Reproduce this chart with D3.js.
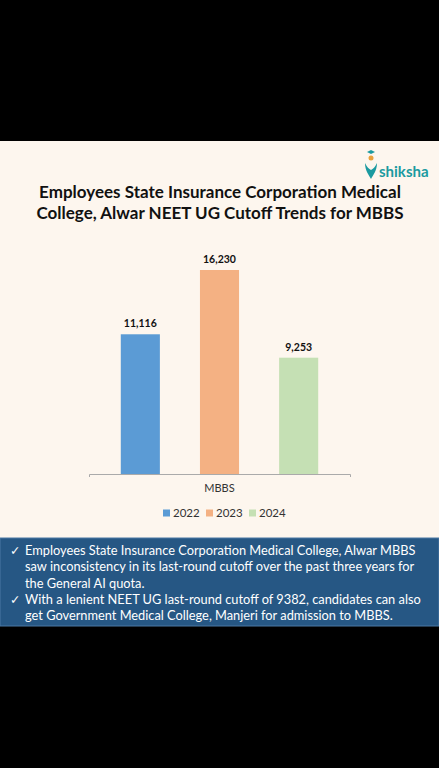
<!DOCTYPE html>
<html>
<head>
<meta charset="utf-8">
<script src="https://cdn.jsdelivr.net/npm/d3@7"></script>
<style>
  body { margin: 0; background: #000; }
  svg { display: block; }
</style>
</head>
<body>
<script>
var categories = ["MBBS"];
var years = ["2022", "2023", "2024"];
var cutoffs = [11116, 16230, 9253];
var colors = ["#5b9bd5", "#f4b183", "#c5e0b4"];
var titleLines = ["Employees State Insurance Corporation Medical", "College, Alwar NEET UG Cutoff Trends for MBBS"];
var notes = [
    ["Employees State Insurance Corporation Medical College, Alwar MBBS",
     "saw inconsistency in its last-round cutoff over the past three years for",
     "the General AI quota."],
    ["With a lenient NEET UG last-round cutoff of 9382, candidates can also",
     "get Government Medical College, Manjeri for admission to MBBS."]
];

var width = 439;
var height = 768;
var font = "Lato, 'Open Sans', sans-serif";

let svg = d3.select("body")
    .append("svg")
    .attr("width", width)
    .attr("height", height);

// black background then cream panel
svg.append("rect").attr("width", width).attr("height", height).attr("fill", "#000");
svg.append("rect")
    .attr("x", 0).attr("y", 141)
    .attr("width", width).attr("height", 397)
    .attr("fill", "#fdf6ee");

// logo
let logo = svg.append("g").attr("transform", "translate(371,165)");
logo.append("path")
    .attr("d", "M-6,-2 C-6,6 -2,10 0,14 C2,10 6,6 6,-2 C4,2 2,4 0,5 C-2,4 -4,2 -6,-2 Z")
    .attr("fill", "#1b9aa0");
logo.append("path")
    .attr("d", "M-4,-13 L0,-15 L4,-13 L0,-11 Z")
    .attr("fill", "#1b9aa0");
logo.append("circle").attr("cx", 0).attr("cy", -7).attr("r", 2.5).attr("fill", "#e9a13b");
svg.append("text")
    .attr("x", 379).attr("y", 177)
    .attr("font-family", "Lato, sans-serif")
    .attr("font-size", "15px")
    .attr("font-weight", "bold")
    .attr("fill", "#1b9aa0")
    .text("shiksha");

// title
svg.selectAll(".title")
    .data(titleLines)
    .enter()
    .append("text")
    .attr("class", "title")
    .attr("x", 220)
    .attr("y", (d, i) => 198 + i * 21)
    .attr("text-anchor", "middle")
    .attr("font-family", font)
    .attr("font-size", "17px")
    .attr("font-weight", "bold")
    .attr("fill", "#111")
    .text((d) => d);

// scales
let xScale = d3.scaleBand()
    .domain(categories)
    .range([89, 350])
    .padding(0);

let x0 = xScale(categories[0]);
let xInner = d3.scaleBand()
    .domain(years)
    .range([x0 + 12, x0 + xScale.bandwidth() - 12])
    .paddingInner(40 / 79)
    .paddingOuter(0.25);

let yScale = d3.scaleLinear()
    .domain([0, 18000])
    .range([474, 474 - 18000 * 204 / 16230]);

let barData = years.map((y, i) => ({ year: y, value: cutoffs[i], color: colors[i] }));

// bars
svg.selectAll(".bar")
    .data(barData)
    .enter()
    .append("rect")
    .attr("class", "bar")
    .attr("x", (d) => xInner(d.year))
    .attr("y", (d) => yScale(d.value))
    .attr("width", xInner.bandwidth())
    .attr("height", (d) => yScale(0) - yScale(d.value))
    .attr("fill", (d) => d.color);

// value labels
svg.selectAll(".val")
    .data(barData)
    .enter()
    .append("text")
    .attr("class", "val")
    .attr("x", (d) => xInner(d.year) + xInner.bandwidth() / 2)
    .attr("y", (d) => yScale(d.value) - 7)
    .attr("text-anchor", "middle")
    .attr("font-family", font)
    .attr("font-size", "10.5px")
    .attr("font-weight", "bold")
    .attr("fill", "#111")
    .text((d) => d3.format(",")(d.value));

// x axis
let xAxis = d3.axisBottom(xScale).tickSize(0).tickSizeOuter(3).tickPadding(10);
let gx = svg.append("g")
    .attr("transform", "translate(0," + yScale(0) + ")")
    .call(xAxis);
gx.select(".domain").attr("stroke", "#aaa");
gx.selectAll("text")
    .attr("font-family", font)
    .attr("font-size", "11px")
    .attr("fill", "#333");

// legend
let legend = svg.selectAll(".leg")
    .data(barData)
    .enter()
    .append("g")
    .attr("class", "leg")
    .attr("transform", (d, i) => "translate(" + (163 + i * 43) + ",513)");
legend.append("rect")
    .attr("x", 0).attr("y", -3.5)
    .attr("width", 7).attr("height", 7)
    .attr("fill", (d) => d.color);
legend.append("text")
    .attr("x", 10).attr("y", 4)
    .attr("font-family", font)
    .attr("font-size", "11.5px")
    .attr("fill", "#333")
    .text((d) => d.year);

// notes box
svg.append("rect")
    .attr("x", 0).attr("y", 538)
    .attr("width", width).attr("height", 88)
    .attr("fill", "#265784")
    .attr("stroke", "#4a78a4")
    .attr("stroke-width", 1);

let lineY = 555;
notes.forEach((para) => {
    para.forEach((line, j) => {
        if (j === 0) {
            svg.append("text")
                .attr("x", 10).attr("y", lineY)
                .attr("font-family", "'DejaVu Sans', sans-serif")
                .attr("font-size", "12.5px")
                .attr("font-weight", "bold")
                .attr("fill", "#fff")
                .text("\u2713");
        }
        svg.append("text")
            .attr("x", 25).attr("y", lineY)
            .attr("font-family", font)
            .attr("font-size", "12.8px")
            .attr("fill", "#fff")
            .text(line);
        lineY += 16.3;
    });
});
</script>
</body>
</html>
